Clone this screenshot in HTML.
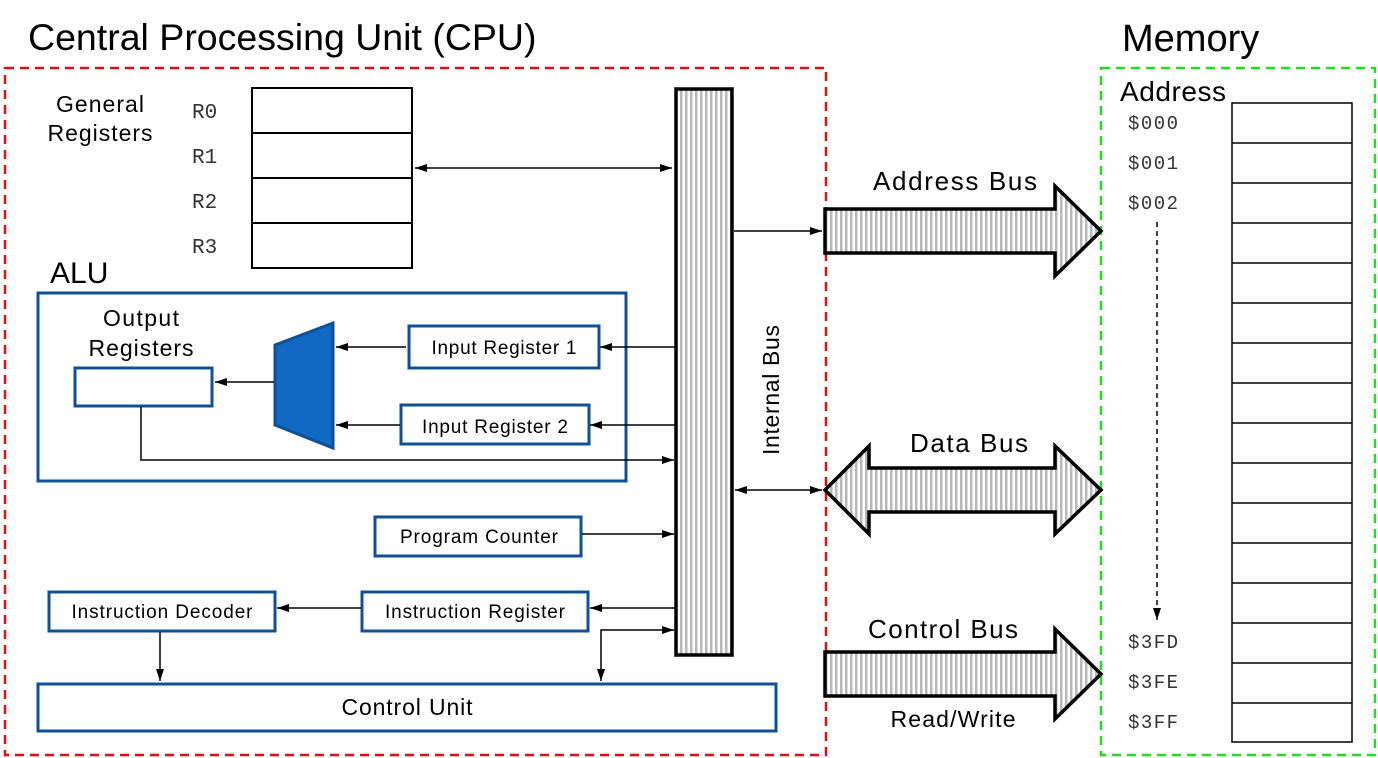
<!DOCTYPE html>
<html><head><meta charset="utf-8"><style>html,body{margin:0;padding:0;background:#fff}svg{display:block}</style></head>
<body>
<svg width="1378" height="758" viewBox="0 0 1378 758" xmlns="http://www.w3.org/2000/svg" font-family="Liberation Sans, sans-serif">
<defs>
<pattern id="h" width="5" height="10" patternUnits="userSpaceOnUse"><rect width="5" height="10" fill="#fff"/><rect x="0" width="2.5" height="10" fill="#b8b8b8"/></pattern>
<marker id="a" viewBox="0 0 12 8" refX="12" refY="4" markerWidth="12" markerHeight="8" markerUnits="userSpaceOnUse" orient="auto-start-reverse"><path d="M0,0 L12,4 L0,8 Z" fill="#000"/></marker>
</defs>
<rect x="5" y="68" width="821" height="687" fill="none" stroke="#e01010" stroke-width="2.5" stroke-dasharray="9,6"/>
<rect x="1101" y="68" width="274" height="687" fill="none" stroke="#22dd22" stroke-width="2.5" stroke-dasharray="9,6"/>
<text x="28" y="50" font-size="37.5">Central Processing Unit (CPU)</text>
<text x="1122" y="51" font-size="38">Memory</text>

<text x="100" y="112" font-size="23" text-anchor="middle" textLength="88">General</text>
<text x="100" y="141" font-size="23" text-anchor="middle" textLength="105">Registers</text>
<g font-family="Liberation Mono, monospace" font-size="21" fill="#333">
<text x="192" y="118">R0</text><text x="192" y="163">R1</text><text x="192" y="208">R2</text><text x="192" y="253">R3</text></g>
<rect x="252" y="88" width="160" height="180" fill="#fff" stroke="#000" stroke-width="2"/>
<path d="M252 133H412M252 178H412M252 223H412" stroke="#000" stroke-width="2"/>
<line x1="415" y1="168" x2="672" y2="168" stroke="#000" stroke-width="1.5" marker-start="url(#a)" marker-end="url(#a)"/>

<rect x="676" y="89" width="56" height="566" fill="url(#h)" stroke="#000" stroke-width="3.5"/>
<text transform="translate(779,390) rotate(-90)" font-size="23" text-anchor="middle" textLength="130">Internal Bus</text>

<text x="50" y="283" font-size="30">ALU</text>
<g stroke="#0f5196" stroke-width="3" fill="#fff">
<rect x="38" y="293" width="588" height="188"/>
<rect x="75" y="368" width="137" height="38"/>
<rect x="409" y="326" width="190" height="42"/>
<rect x="401" y="405" width="188" height="39"/>
<rect x="375" y="517" width="206" height="39"/>
<rect x="49" y="592" width="226" height="39"/>
<rect x="362" y="592" width="226" height="39"/>
<rect x="38" y="684" width="738" height="47"/>
<polygon points="275,345 333,323 333,448 275,425" fill="#1169c4"/>
</g>
<text x="141" y="326" font-size="23" text-anchor="middle" textLength="76">Output</text>
<text x="141" y="356" font-size="23" text-anchor="middle" textLength="105">Registers</text>
<g font-size="19" text-anchor="middle">
<text x="504" y="354" textLength="145">Input Register 1</text>
<text x="495" y="433" textLength="146">Input Register 2</text>
<text x="479" y="543" textLength="158">Program Counter</text>
<text x="162" y="618" textLength="181">Instruction Decoder</text>
<text x="475" y="618" textLength="180">Instruction Register</text>
<text x="407" y="715" font-size="23" textLength="131">Control Unit</text>
</g>
<g stroke="#000" stroke-width="1.5" fill="none">
<line x1="676" y1="347" x2="600" y2="347" marker-end="url(#a)"/>
<line x1="406" y1="347" x2="336" y2="347" marker-end="url(#a)"/>
<line x1="676" y1="425" x2="590" y2="425" marker-end="url(#a)"/>
<line x1="400" y1="425" x2="336" y2="425" marker-end="url(#a)"/>
<line x1="274" y1="382" x2="215" y2="382" marker-end="url(#a)"/>
<polyline points="141,407 141,460 674,460" marker-end="url(#a)"/>
<line x1="582" y1="534" x2="674" y2="534" marker-end="url(#a)"/>
<line x1="676" y1="608" x2="590" y2="608" marker-end="url(#a)"/>
<line x1="361" y1="608" x2="277" y2="608" marker-end="url(#a)"/>
<line x1="160" y1="632" x2="160" y2="681" marker-end="url(#a)"/>
<polyline points="674,630 601,630 601,681" marker-start="url(#a)" marker-end="url(#a)"/>
<line x1="734" y1="231" x2="822" y2="231" marker-end="url(#a)"/>
<line x1="735" y1="490" x2="822" y2="490" marker-start="url(#a)" marker-end="url(#a)"/>
</g>
<g fill="url(#h)" stroke="#000" stroke-width="3.5" stroke-linejoin="miter">
<polygon points="825,209 1055,209 1055,186 1101,231 1055,276 1055,253 825,253"/>
<polygon points="825,490 869,446 869,468 1055,468 1055,446 1101,490 1055,534 1055,512 869,512 869,534"/>
<polygon points="825,652 1055,652 1055,629 1101,674 1055,719 1055,696 825,696"/>
</g>
<g font-size="26" text-anchor="middle">
<text x="955" y="190" textLength="164">Address Bus</text>
<text x="969" y="452" textLength="118">Data Bus</text>
<text x="943" y="638" textLength="150">Control Bus</text>
<text x="953" y="727" font-size="23" textLength="125">Read/Write</text>
</g>

<text x="1120" y="101" font-size="28" textLength="106">Address</text>
<rect x="1232" y="103" width="120" height="639" fill="#fff" stroke="#000" stroke-width="1.5"/>
<path d="M1232 143H1352M1232 183H1352M1232 223H1352M1232 263H1352M1232 303H1352M1232 343H1352M1232 383H1352M1232 423H1352M1232 463H1352M1232 503H1352M1232 543H1352M1232 583H1352M1232 623H1352M1232 663H1352M1232 703H1352" stroke="#000" stroke-width="1.5"/>
<g font-family="Liberation Mono, monospace" font-size="19" fill="#333">
<text x="1128" y="129" textLength="50">$000</text><text x="1128" y="169" textLength="50">$001</text><text x="1128" y="209" textLength="50">$002</text>
<text x="1128" y="648" textLength="50">$3FD</text><text x="1128" y="688" textLength="50">$3FE</text><text x="1128" y="728" textLength="50">$3FF</text></g>
<line x1="1157" y1="222" x2="1157" y2="620" stroke="#000" stroke-width="1.5" stroke-dasharray="5,4" marker-end="url(#a)"/>
</svg>
</body></html>
